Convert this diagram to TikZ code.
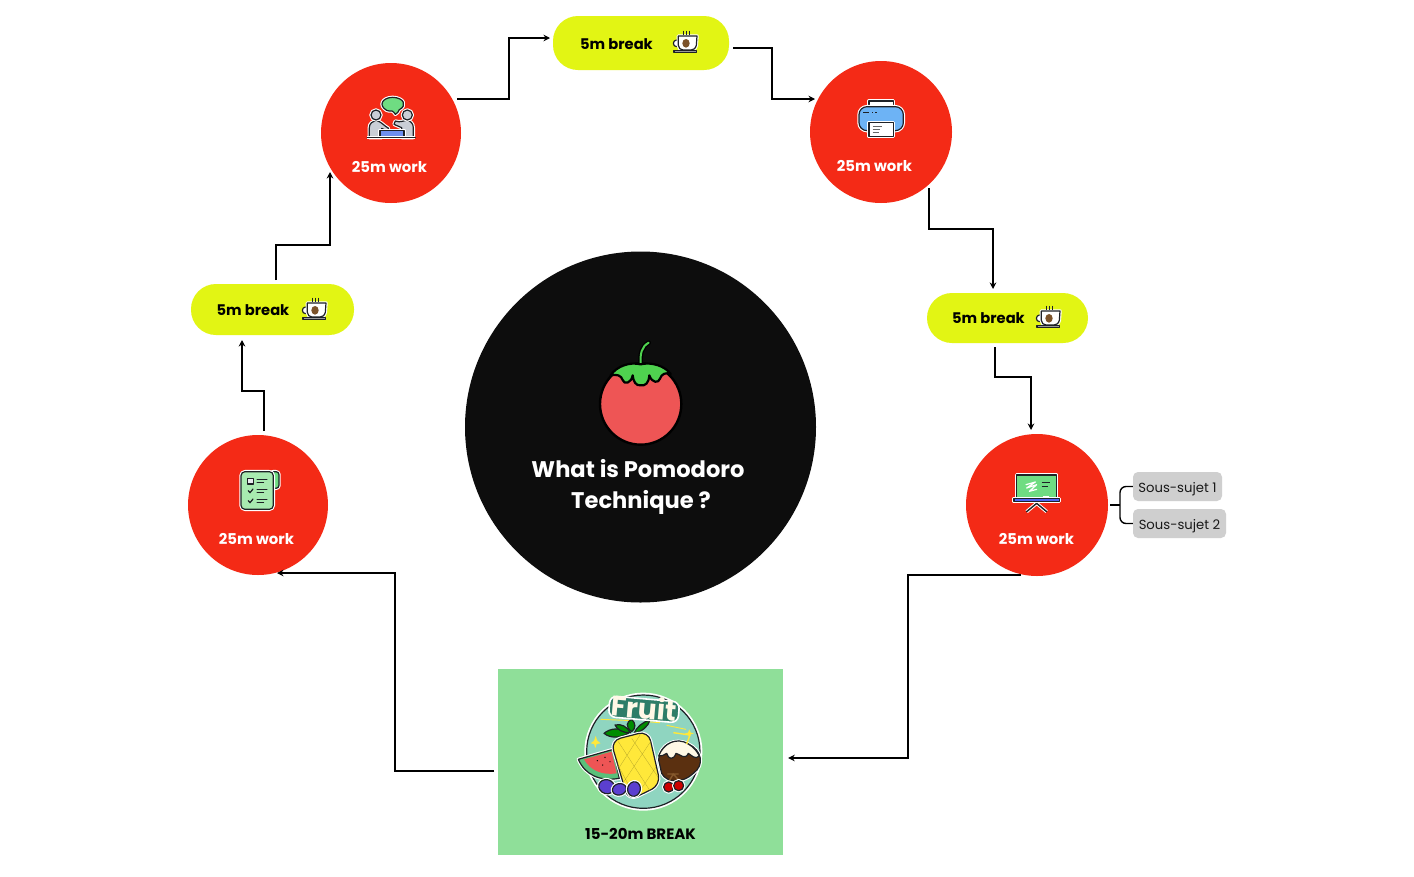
\documentclass[tikz,border=0pt]{standalone}
\usepackage{fontspec}
\setmainfont{Poppins}
\usetikzlibrary{arrows.meta,calc}
\definecolor{workred}{HTML}{F42A16}
\definecolor{lime}{HTML}{E2F514}
\definecolor{mint}{HTML}{8FDF99}
\definecolor{ink}{HTML}{1E2126}
\definecolor{tomred}{HTML}{EE5555}
\definecolor{leafg}{HTML}{4FD24F}
\definecolor{softg}{HTML}{6FDC82}
\definecolor{paleg}{HTML}{A8EAB0}
\definecolor{skyb}{HTML}{6DB3F5}
\definecolor{lav}{HTML}{6F8FF0}
\definecolor{pgrey}{HTML}{C9CED6}
\definecolor{badge}{HTML}{8FD5C0}
\definecolor{pine}{HTML}{FFE83A}
\definecolor{plum}{HTML}{5B3FD0}
\definecolor{coco}{HTML}{5B3010}
\definecolor{cream}{HTML}{FFF8E6}
\definecolor{teal}{HTML}{2E7D68}
\tikzset{
  x=1pt,y=-1pt,
  workc/.style={circle,fill=workred,inner sep=0pt,minimum size=#1},
  pill/.style={rounded corners=25pt,fill=lime,inner sep=0pt},
  worktxt/.style={text=white,font=\fontsize{14.9}{18}\selectfont\bfseries,inner sep=0pt},
  breaktxt/.style={text=black,font=\fontsize{14.7}{18}\selectfont\bfseries,inner sep=0pt},
  subbox/.style={rounded corners=5pt,fill=black!19,inner sep=0pt,font=\fontsize{13.2}{16}\selectfont,text=black!90},
  conn/.style={line width=1.4pt,draw=black,-{Stealth[length=6.5pt,width=6.5pt]}},
  plain/.style={line width=1.4pt,draw=black},
  ic/.style={draw=ink,line width=1.2pt,line join=round,line cap=round},
  halo/.style={preaction={draw=white,line width=3.4pt,line join=round}},
  cup/.pic={
    \begin{scope}[scale=1/3]
      \draw[ic,fill=white] (-25,-2) circle (10);
      \draw[ic,fill=white,halo] (-20,-24) -- (36,-24) -- (34,4) .. controls (32,14) and (24,18) .. (18,18) -- (-6,18) .. controls (-14,18) and (-19,12) .. (-20,4) -- cycle;
      \draw[ic,fill=black!40] (-33,20) rectangle (35,25);
      \fill[brown!65!black] (3,-2) ellipse (11 and 13);
      \draw[ink,line width=1pt] (-5,-40) -- (-5,-28) (5,-40) -- (5,-28) (14,-40) -- (14,-28);
    \end{scope}
  }
}
\begin{document}
\begin{tikzpicture}
\useasboundingbox (0,0) rectangle (1414,876);
\fill[white] (0,0) rectangle (1414,876);

% nodes
\node[circle,fill=black!95,minimum size=351pt,inner sep=0pt] (core) at (640.5,427) {};
\node[workc=140pt] (w1) at (258,505) {};
\node[workc=140pt] (w2) at (391,133) {};
\node[workc=142pt] (w3) at (881,132) {};
\node[workc=142pt] (w4) at (1037,505) {};
\node[pill,minimum width=176pt,minimum height=54pt] (b1) at (641,43) {};
\node[pill,minimum width=163pt,minimum height=51pt] (b2) at (272.5,309.5) {};
\node[pill,minimum width=161pt,minimum height=50pt] (b3) at (1007.5,318) {};
\node[fill=mint,minimum width=285.5pt,minimum height=186pt,inner sep=0pt] (rest) at (640.7,762) {};
\node[subbox,minimum width=89pt,minimum height=29pt,text depth=0pt] (s1) at (1177.5,486.5) {\raisebox{-1pt}{Sous-sujet 1}};
\node[subbox,minimum width=93pt,minimum height=29pt,text depth=0pt] (s2) at (1179.5,523.5) {\raisebox{-1pt}{Sous-sujet 2}};

% labels
\node[worktxt] (t1) at (256.5,538.5) {25m work};
\node[worktxt] (t2) at (389.5,166.5) {25m work};
\node[worktxt] (t3) at (874.5,165.5) {25m work};
\node[worktxt] (t4) at (1036.5,538.5) {25m work};
\node[breaktxt] (tb1) at (616.5,44.5) {5m break};
\node[breaktxt] (tb2) at (253,310.5) {5m break};
\node[breaktxt] (tb3) at (988.5,318.5) {5m break};
\node[breaktxt,font=\fontsize{15}{18}\selectfont\bfseries] (trest) at (640.5,834) {15-20m BREAK};
\node[align=center,text=white,font=\fontsize{22.6}{31}\selectfont\bfseries,inner sep=0pt] (title) at (638,486.5) {What is Pomodoro\\\hspace*{6pt}Technique ?};

% connectors
\draw[conn] ($(w1)+(6,-74)$) -- (264,391) -- (242,391) -- ($(b2)+(-30.5,30.5)$);
\draw[conn] ($(b2)+(3.5,-29.5)$) -- (276,245) -- (330,245) -- ($(w2)+(-61,39)$);
\draw[conn] ($(w2)+(66,-34)$) -- (509,99) -- (509,38) -- ($(b1)+(-91,-5)$);
\draw[conn] ($(b1)+(92,5)$) -- (772,48) -- (772,99) -- ($(w3)+(-66,-33)$);
\draw[conn] ($(w3)+(48,56)$) -- (929,229) -- (993,229) -- ($(b3)+(-14.5,-29)$);
\draw[conn] ($(b3)+(-12.5,29)$) -- (995,377) -- (1031,377) -- ($(w4)+(-6,-75)$);
\draw[conn] ($(w4)+(-16,70)$) -- (908,575) -- (908,758) -- ($(rest)+(147.5,-4)$);
\draw[conn] ($(rest)+(-146.5,9)$) -- (395,771) -- (395,573) -- ($(w1)+(19,68)$);

% branch to sub-topics
\coordinate (fork) at (1120,505);
\draw[plain] ($(w4)+(73,0)$) -- (fork);
\draw[plain,rounded corners=6pt] (s1.west) -- (fork |- s1.west) -- (fork) -- (fork |- s2.west) -- (s2.west);

% cups
\pic at (685,44) {cup};
\pic at (314,311) {cup};
\pic at (1048,319) {cup};

% tomato
\begin{scope}[shift={(580,330)},scale=1/3]
  \draw[line width=2.4pt,draw=black,fill=tomred] (182,222) circle (122);
  \draw[line width=4.6pt,draw=black,line cap=round] (182,103) .. controls (180,70) and (185,50) .. (206,38);
  \draw[line width=2pt,draw=leafg,line cap=round] (182,103) .. controls (180,70) and (185,50) .. (206,38);
  \draw[line width=2.2pt,draw=black,fill=leafg,line join=round] (92,136) .. controls (110,108) and (150,95) .. (182,103)
    .. controls (215,95) and (255,108) .. (272,132)
    .. controls (258,126) and (244,132) .. (240,146)
    .. controls (236,160) and (216,160) .. (208,136)
    .. controls (206,160) and (196,168) .. (182,166)
    .. controls (168,168) and (160,155) .. (158,136)
    .. controls (154,160) and (132,165) .. (128,150)
    .. controls (124,136) and (110,132) .. (92,136) -- cycle;
\end{scope}

% meeting icon
\begin{scope}[shift={(350,85)},scale=1/3]
  \draw[ic,halo,fill=softg] (110,76) .. controls (85,62) and (95,38) .. (128,37) .. controls (162,38) and (172,62) .. (148,74) .. controls (145,80) and (142,86) .. (136,88) .. controls (134,84) and (130,80) .. (126,78) .. controls (120,79) and (115,78) .. (110,76) -- cycle;
  \draw[ic,halo,fill=pgrey] (58,158) -- (58,128) .. controls (58,115) and (68,108) .. (80,108) .. controls (92,108) and (96,118) .. (116,130) -- (112,138) -- (95,130) -- (95,158) -- cycle;
  \draw[ic,halo,fill=pgrey] (190,158) -- (190,128) .. controls (190,115) and (180,106) .. (170,106) .. controls (160,106) and (152,114) .. (136,108) -- (132,118) -- (155,128) -- (155,158) -- cycle;
  \draw[ic,halo,fill=pgrey] (78,90) circle (15);
  \draw[ic,halo,fill=pgrey] (172,90) circle (15);
  \draw[ic,halo,fill=lav] (90,136) rectangle (162,157);
  \draw[ic,halo] (52,158) -- (196,158);
\end{scope}

% printer icon
\begin{scope}[shift={(840,90)},scale=1/3]
  \draw[ic,halo,fill=white] (87,33) rectangle (160,60);
  \draw[ic,halo,fill=skyb,rounded corners=8pt] (57,50) rectangle (190,122);
  \draw[ink,line width=1pt] (70,67) -- (88,67) (96,67) -- (100,67) (106,67) -- (110,67);
  \draw[ic,halo,fill=white] (87,97) rectangle (160,140);
  \draw[black!60,line width=1pt] (98,108) -- (125,108) (98,117) -- (120,117) (98,126) -- (118,126);
\end{scope}

% board icon
\begin{scope}[shift={(1000,460)},scale=1/3]
  \draw[ic,line width=1.4pt,halo] (80,155) -- (110,130) -- (140,155);
  \draw[ic,halo,fill=softg] (50,45) rectangle (170,115);
  \draw[ic,halo,fill=lav!70!blue] (42,115) rectangle (178,125);
  \draw[white,line width=1.2pt,line cap=round,line join=round] (78,74) -- (106,66) -- (80,84) -- (110,74) -- (88,94) -- (110,88);
  \draw[ink,line width=1pt] (125,68) -- (150,68) (125,80) -- (145,80);
  \fill[white] (128,108) rectangle (146,115);
\end{scope}

% checklist icon
\begin{scope}[shift={(225,460)},scale=1/3]
  \draw[ic,halo,fill=softg,rounded corners=3pt] (135,35) -- (162,35) -- (162,85) -- (135,85) -- cycle;
  \draw[ic,halo,fill=paleg,rounded corners=4pt] (48,35) rectangle (145,148);
  \draw[ic,fill=pgrey!40] (68,55) rectangle (85,72);
  \draw[ink,line width=1pt,line cap=round] (96,58) -- (126,58) (96,68) -- (116,68) (96,88) -- (126,88) (96,98) -- (116,98) (96,118) -- (126,118) (96,128) -- (116,128);
  \draw[ink,line width=1.2pt,line cap=round,line join=round] (70,92) -- (75,98) -- (84,87) (70,122) -- (75,128) -- (84,117);
\end{scope}

% fruit badge
\begin{scope}[shift={(560,670)},scale=1/3]
  \fill[white] (250,245) circle (177);
  \draw[ink,fill=badge,line width=1.2pt] (250,245) circle (170);
  \draw[pine,line width=.9pt] (122,148) -- (220,152) (260,155) -- (300,158) (320,166) -- (378,178);
  \fill[pine] (107,198) -- (112,212) -- (122,220) -- (110,222) -- (106,234) -- (102,222) -- (92,220) -- (102,212) -- cycle;
  % watermelon
  \draw[ic,halo,fill=softg!70!teal] (55,268) -- (160,238) -- (178,325) .. controls (120,335) and (75,315) .. (55,268) -- cycle;
  \fill[tomred] (72,268) -- (155,245) -- (170,310) .. controls (125,317) and (90,300) .. (72,268) -- cycle;
  \fill[black] (112,272) circle (2) (135,262) circle (2) (150,275) circle (2) (128,285) circle (2);
  % coconut
  \draw[ic,halo,fill=coco] (296,270) .. controls (298,225) and (345,200) .. (385,222) .. controls (425,240) and (435,285) .. (400,310) .. controls (370,340) and (320,340) .. (305,310) -- cycle;
  \draw[ic,fill=cream] (296,258) .. controls (310,220) and (350,200) .. (385,222) .. controls (400,230) and (412,245) .. (418,258) .. controls (405,270) and (395,256) .. (385,250) .. controls (375,272) and (360,252) .. (348,250) .. controls (340,272) and (325,268) .. (320,250) .. controls (312,254) and (305,260) .. (296,258) -- cycle;
  \draw[pine,line width=1.4pt,line join=round] (340,188) -- (390,195) -- (380,222);
  \fill[pine] (388,178) -- (392,188) -- (402,190) -- (392,193) -- (388,204) -- (384,193) -- (374,190) -- (384,188) -- cycle;
  % cherries
  \draw[brown!70!black,line width=1.4pt] (326,335) -- (340,312) -- (356,330) (322,312) -- (356,312);
  \draw[ic,halo,fill=red!80!black] (326,351) circle (15);
  \draw[ic,halo,fill=red!80!black] (356,347) circle (15);
  % leaves
  \draw[ic,fill=green!55!black] (205,190) .. controls (180,170) and (150,175) .. (132,190) .. controls (150,205) and (180,205) .. (205,190) -- cycle;
  \draw[ic,fill=green!55!black] (212,188) .. controls (200,170) and (185,160) .. (165,165) .. controls (170,178) and (190,190) .. (212,188) -- cycle;
  \draw[ic,fill=green!55!black] (215,185) .. controls (195,170) and (200,155) .. (215,148) .. controls (228,160) and (228,175) .. (215,185) -- cycle;
  \draw[ic,fill=green!55!black] (222,190) .. controls (230,170) and (250,155) .. (270,150) .. controls (265,170) and (245,185) .. (222,190) -- cycle;
  % pineapple
  \draw[ic,halo,fill=pine,rounded corners=10pt] (152,212) -- (265,183) -- (302,345) -- (205,392) -- cycle;
  \begin{scope}
    \clip[rounded corners=10pt] (152,212) -- (265,183) -- (302,345) -- (205,392) -- cycle;
    \draw[black!30!pine,line width=.25pt] (160,260) -- (230,390) (175,215) -- (275,370) (215,205) -- (300,330) (160,320) -- (240,195) (175,360) -- (275,210) (225,385) -- (295,280);
  \end{scope}
  % plums
  \draw[ic,halo,fill=plum,rotate around={-15:(140,350)}] (140,350) ellipse (24 and 21);
  \draw[ic,halo,fill=plum,rotate around={15:(178,358)}] (178,358) ellipse (21 and 17);
  \draw[ic,halo,fill=plum,rotate around={-15:(222,357)}] (222,357) ellipse (19 and 22);
  % title plate
  \node[rotate=-5,fill=teal,draw=white,line width=1.6pt,rounded corners=7pt,text=cream,font=\fontsize{28}{28}\selectfont\bfseries,inner xsep=2pt,inner ysep=0pt,text height=20pt,text depth=1pt] (fruitname) at (252,118) {Fruit};
\end{scope}
\end{tikzpicture}
\end{document}
